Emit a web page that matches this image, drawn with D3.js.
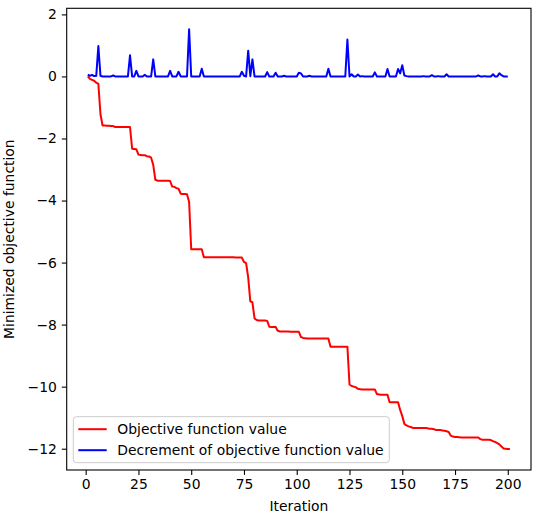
<!DOCTYPE html>
<html lang="en">
<head>
<meta charset="utf-8">
<style>
  body { margin: 0; background-color: white; }
  svg { font-family: 'DejaVu Sans', sans-serif; }
</style>
</head>
<body>
<div id="my_dataviz"></div>
<script src="https://cdn.jsdelivr.net/npm/d3@7"></script>
<script>

// objective value per iteration (iterations 1..201)
var objectiveValues = [
  0.00, -0.08, -0.11, -0.14, -0.20, -0.24, -1.22, -1.58, -1.58, -1.59,
  -1.59, -1.60, -1.60, -1.63, -1.63, -1.63, -1.63, -1.63, -1.63, -1.63,
  -1.63, -2.33, -2.34, -2.35, -2.52, -2.53, -2.54, -2.54, -2.57, -2.58,
  -2.62, -2.85, -3.33, -3.36, -3.36, -3.36, -3.36, -3.36, -3.36, -3.37,
  -3.55, -3.56, -3.60, -3.62, -3.78, -3.79, -3.79, -3.80, -4.05, -5.57,
  -5.57, -5.57, -5.57, -5.57, -5.57, -5.83, -5.83, -5.83, -5.83, -5.83,
  -5.83, -5.83, -5.83, -5.83, -5.83, -5.83, -5.83, -5.83, -5.83, -5.83,
  -5.84, -5.84, -5.84, -5.84, -5.98, -6.02, -6.48, -7.25, -7.28, -7.80,
  -7.85, -7.87, -7.87, -7.87, -7.87, -7.88, -8.07, -8.08, -8.08, -8.08,
  -8.20, -8.22, -8.22, -8.22, -8.22, -8.22, -8.23, -8.23, -8.23, -8.23,
  -8.23, -8.40, -8.43, -8.44, -8.45, -8.45, -8.45, -8.45, -8.45, -8.45,
  -8.45, -8.45, -8.45, -8.45, -8.45, -8.71, -8.71, -8.71, -8.71, -8.71,
  -8.71, -8.71, -8.71, -8.71, -9.93, -9.98, -10.00, -10.02, -10.07, -10.08,
  -10.09, -10.09, -10.09, -10.09, -10.09, -10.09, -10.09, -10.24, -10.25, -10.26,
  -10.26, -10.26, -10.26, -10.50, -10.50, -10.50, -10.50, -10.50, -10.75, -10.95,
  -11.20, -11.25, -11.28, -11.30, -11.33, -11.33, -11.33, -11.33, -11.33, -11.33,
  -11.33, -11.34, -11.36, -11.36, -11.37, -11.40, -11.40, -11.40, -11.41, -11.42,
  -11.44, -11.46, -11.58, -11.61, -11.62, -11.62, -11.63, -11.64, -11.64, -11.64,
  -11.64, -11.64, -11.64, -11.64, -11.64, -11.64, -11.69, -11.71, -11.71, -11.71,
  -11.71, -11.72, -11.76, -11.78, -11.82, -11.86, -11.93, -11.99, -12.00, -12.01,
  -12.01
];

// decrement per iteration (iterations 1..200)
var decrementValues = [
  0.06, 0.02, 0.05, 0.01, 0.02, 0.98, 0.02, 0.00, 0.00, 0.00,
  0.00, 0.00, 0.03, 0.00, 0.00, 0.00, 0.00, 0.00, 0.00, 0.00,
  0.68, 0.00, 0.00, 0.18, 0.00, 0.00, 0.00, 0.05, 0.00, 0.00,
  0.00, 0.55, 0.00, 0.00, 0.00, 0.00, 0.00, 0.00, 0.00, 0.18,
  0.00, 0.00, 0.00, 0.15, 0.00, 0.00, 0.00, 0.00, 1.52, 0.00,
  0.00, 0.00, 0.00, 0.00, 0.25, 0.00, 0.00, 0.00, 0.00, 0.00,
  0.00, 0.00, 0.00, 0.00, 0.00, 0.00, 0.00, 0.00, 0.00, 0.00,
  0.00, 0.00, 0.00, 0.15, 0.02, 0.00, 0.83, 0.01, 0.55, 0.00,
  0.00, 0.00, 0.00, 0.00, 0.00, 0.14, 0.00, 0.00, 0.00, 0.12,
  0.00, 0.00, 0.00, 0.02, 0.00, 0.00, 0.00, 0.00, 0.00, 0.00,
  0.12, 0.10, 0.00, 0.00, 0.00, 0.02, 0.00, 0.00, 0.00, 0.00,
  0.00, 0.00, 0.00, 0.00, 0.25, 0.00, 0.00, 0.00, 0.00, 0.00,
  0.00, 0.00, 0.00, 1.19, 0.00, 0.07, 0.00, 0.00, 0.06, 0.00,
  0.01, 0.00, 0.00, 0.00, 0.00, 0.00, 0.13, 0.00, 0.00, 0.00,
  0.00, 0.00, 0.24, 0.00, 0.00, 0.00, 0.00, 0.24, 0.10, 0.36,
  0.03, 0.01, 0.00, 0.00, 0.00, 0.00, 0.00, 0.00, 0.00, 0.01,
  0.00, 0.00, 0.00, 0.04, 0.00, 0.00, 0.01, 0.00, 0.00, 0.00,
  0.07, 0.00, 0.00, 0.00, 0.00, 0.00, 0.00, 0.00, 0.00, 0.00,
  0.00, 0.00, 0.00, 0.00, 0.00, 0.03, 0.00, 0.00, 0.01, 0.00,
  0.00, 0.00, 0.07, 0.00, 0.00, 0.10, 0.04, 0.00, 0.00, 0.00
];

var xTicks = [0, 25, 50, 75, 100, 125, 150, 175, 200];
var yTicks = [2, 0, -2, -4, -6, -8, -10, -12];
var seriesNames = ["Objective function value", "Decrement of objective function value"];
var seriesColors = ["red", "blue"];

// set the dimensions and margins of the graph
var margin = {top: 8.3, right: 10, bottom: 46, left: 66.7};
var width = 541 - margin.left - margin.right;
var height = 516 - margin.top - margin.bottom;

var svg = d3.select("#my_dataviz")
  .append("svg")
    .attr("width", 541)
    .attr("height", 516)
  .append("g")
    .attr("transform", "translate(" + margin.left + "," + margin.top + ")");

var series = [
  objectiveValues.map(function(v, i) { return [i + 1, v]; }),
  decrementValues.map(function(v, i) { return [i + 1, v]; })
];

// matplotlib-like 5% padding
var allX = series[0].concat(series[1]).map(function(d) { return d[0]; });
var allY = series[0].concat(series[1]).map(function(d) { return d[1]; });
var xExt = d3.extent(allX), yExt = d3.extent(allY);
var xPad = (xExt[1] - xExt[0]) * 0.05, yPad = (yExt[1] - yExt[0]) * 0.05;

var x = d3.scaleLinear()
  .domain([xExt[0] - xPad, xExt[1] + xPad])
  .range([0, width]);
var y = d3.scaleLinear()
  .domain([yExt[0] - yPad, yExt[1] + yPad])
  .range([height, 0]);

// X axis
var xAxis = svg.append("g")
  .attr("transform", "translate(0," + height + ")")
  .call(d3.axisBottom(x).tickValues(xTicks).tickSize(4.9).tickPadding(4.2).tickSizeOuter(0));
// Y axis
var yAxis = svg.append("g")
  .call(d3.axisLeft(y).tickValues(yTicks).tickSize(4.9).tickPadding(4.9).tickSizeOuter(0));

[xAxis, yAxis].forEach(function(a) {
  a.select(".domain").remove();
  a.selectAll("line").attr("stroke", "black").attr("stroke-width", 1.1);
  a.selectAll("text").attr("fill", "black").style("font-size", "13.9px").style("font-family", "'DejaVu Sans', sans-serif");
});

// lines
var line = d3.line()
  .x(function(d) { return x(d[0]); })
  .y(function(d) { return y(d[1]); });

svg.selectAll("path.series")
  .data(series)
  .enter()
  .append("path")
    .attr("class", "series")
    .attr("fill", "none")
    .attr("stroke", function(d, i) { return seriesColors[i]; })
    .attr("stroke-width", 2)
    .attr("stroke-linejoin", "round")
    .attr("d", line);

// frame
svg.append("rect")
  .attr("width", width)
  .attr("height", height)
  .attr("fill", "none")
  .attr("stroke", "black")
  .attr("stroke-width", 1.1);

// axis labels
svg.append("text")
  .attr("x", width / 2)
  .attr("y", height + 41)
  .attr("text-anchor", "middle")
  .style("font-size", "13.9px")
  .text("Iteration");

svg.append("text")
  .attr("transform", "translate(" + (-53) + "," + (height / 2) + ")rotate(-90)")
  .attr("text-anchor", "middle")
  .style("font-size", "13.9px")
  .text("Minimized objective function");

// legend
var legend = svg.append("g")
  .attr("transform", "translate(6.6," + (height - 53.3) + ")");
legend.append("rect")
  .attr("width", 316)
  .attr("height", 46)
  .attr("rx", 3)
  .attr("fill", "white")
  .attr("fill-opacity", 0.8)
  .attr("stroke", "#cccccc")
  .attr("stroke-width", 1);

var item = legend.selectAll("g.item")
  .data(seriesNames)
  .enter()
  .append("g")
    .attr("class", "item")
    .attr("transform", function(d, i) { return "translate(0," + (12.5 + i * 21) + ")"; });
item.append("line")
  .attr("x1", 5).attr("x2", 33.4)
  .attr("stroke", function(d, i) { return seriesColors[i]; })
  .attr("stroke-width", 2);
item.append("text")
  .attr("x", 44)
  .attr("dy", "0.35em")
  .style("font-size", "13.9px")
  .text(function(d) { return d; });

</script>
</body>
</html>
